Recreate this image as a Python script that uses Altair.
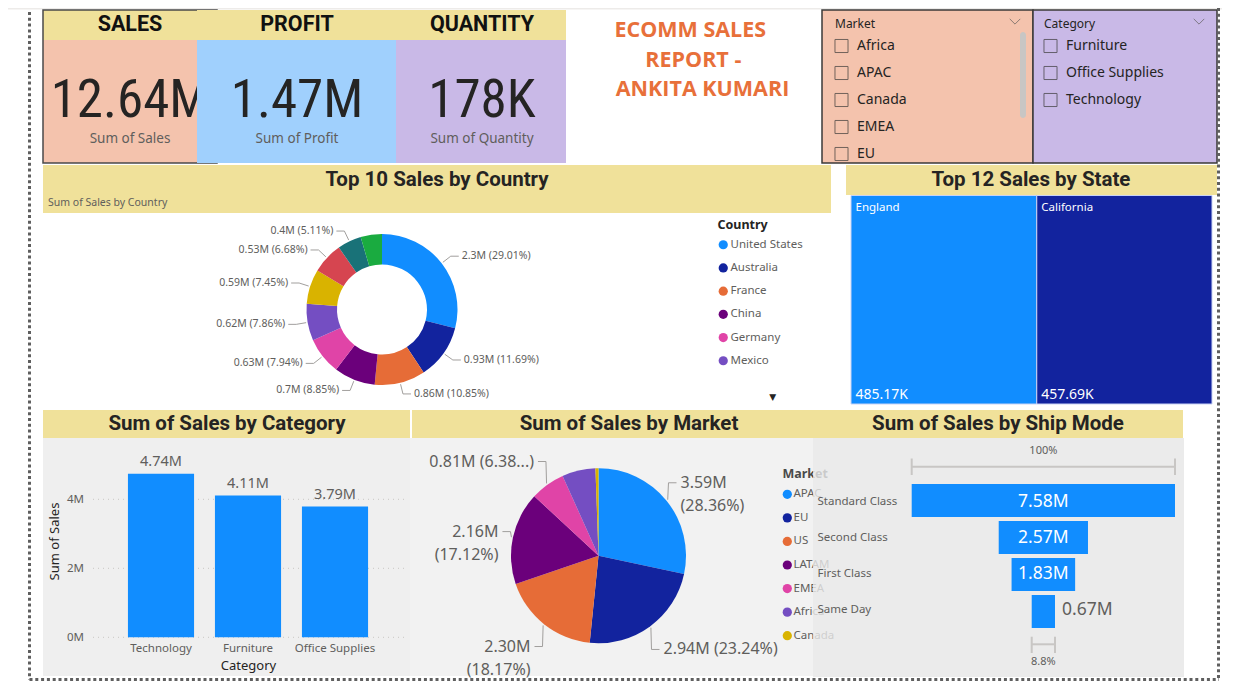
import altair as alt
import pandas as pd

kpi_titles = ["SALES", "PROFIT", "QUANTITY"]
kpi_values = ["12.64M", "1.47M", "178K"]
kpi_names = ["Sum of Sales", "Sum of Profit", "Sum of Quantity"]
report_title = ["ECOMM SALES", "REPORT -", "ANKITA KUMARI"]

slicer_markets = ["Africa", "APAC", "Canada", "EMEA", "EU"]
slicer_categories = ["Furniture", "Office Supplies", "Technology"]

countries = ["United States", "Australia", "France", "China", "Germany",
             "Mexico", "India", "United Kingdom", "Indonesia", "Brazil"]
country_sales_m = [2.3, 0.93, 0.86, 0.7, 0.63, 0.62, 0.59, 0.53, 0.4, 0.36]
country_share = [29.01, 11.69, 10.85, 8.85, 7.94, 7.86, 7.45, 6.68, 5.11, 4.56]

states = ["England", "California"]
state_sales_k = [485.17, 457.69]

categories = ["Technology", "Furniture", "Office Supplies"]
category_sales_m = [4.74, 4.11, 3.79]
sales_ticks = [0, 2_000_000, 4_000_000]

markets = ["APAC", "EU", "US", "LATAM", "EMEA", "Africa", "Canada"]
market_sales_m = [3.59, 2.94, 2.30, 2.16, 0.81, 0.78, 0.07]
market_share = [28.36, 23.24, 18.17, 17.12, 6.38, 6.17, 0.56]
market_labels = ["3.59M\n(28.36%)", "2.94M (23.24%)", "2.30M\n(18.17%)",
                 "2.16M\n(17.12%)", "0.81M (6.38...)", "", ""]

ship_modes = ["Standard Class", "Second Class", "First Class", "Same Day"]
ship_sales_m = [7.58, 2.57, 1.83, 0.67]

# ---------------- styles / layout ----------------
M = 8                      # page margin: layout numbers below are page pixels
W, H = 1214, 673
PBI = ["#118DFF", "#12239E", "#E66C37", "#6B007B", "#E044A7",
       "#744EC2", "#D9B300", "#D64550", "#197278", "#1AAB40"]
YELLOW = "#F0E19A"
INK = "#252423"
GREY = "#605E5C"
LEAD = "#A19F9D"
TF = "Roboto"
UF = "Noto Sans"
NF = "Liberation Sans Narrow, Roboto Condensed, Roboto"

ONE = pd.DataFrame({"k": [0]})


def px(v):
    return v - M


def box(x0, y0, x1, y1, **kw):
    return alt.Chart(ONE).mark_rect(**kw).encode(
        x=alt.value(px(x0)), x2=alt.value(px(x1)),
        y=alt.value(px(y0)), y2=alt.value(px(y1)))


def line(x0, y0, x1, y1, **kw):
    enc = dict(x=alt.value(px(x0)), y=alt.value(px(y0)))
    if x1 != x0:
        enc["x2"] = alt.value(px(x1))
    if y1 != y0:
        enc["y2"] = alt.value(px(y1))
    return alt.Chart(ONE).mark_rule(**kw).encode(**enc)


def text(s, x, y, **kw):
    kw.setdefault("baseline", "middle")
    return alt.Chart(pd.DataFrame({"t": [s]})).mark_text(**kw).encode(
        x=alt.value(px(x)), y=alt.value(px(y)), text="t:N")


def header(x0, x1, y0, y1, title, cx, cy):
    return [box(x0, y0, x1, y1, color=YELLOW),
            text(title, cx, cy, font=TF, fontSize=20.5, fontWeight="bold", color=INK)]


def pie_labels(df, cx, cy, r0, r1x, r1y, hook, gap, keep, **tk):
    cxr, cyr = px(cx), px(cy)
    base = (alt.Chart(df)
            .transform_joinaggregate(total="sum(share)")
            .transform_window(cum="sum(share)", sort=[alt.SortField("idx")])
            .transform_calculate(a="(datum.cum - datum.share / 2) / datum.total * 2 * PI")
            .transform_calculate(side="sin(datum.a) >= 0 ? 1 : -1")
            .transform_calculate(ax=f"{cxr} + {r0} * sin(datum.a)")
            .transform_calculate(ay=f"{cyr} - {r0} * cos(datum.a)")
            .transform_calculate(bx=f"{cxr} + {r1x} * sin(datum.a)")
            .transform_calculate(by=f"{cyr} - {r1y} * cos(datum.a)")
            .transform_calculate(hx=f"datum.bx + datum.side * {hook}")
            .transform_calculate(tx=f"datum.bx + datum.side * {hook + gap}")
            .transform_filter(keep))
    X = lambda f: alt.X(f, scale=None, axis=None)
    Y = lambda f: alt.Y(f, scale=None, axis=None)
    return [
        base.mark_rule(color=LEAD, strokeWidth=1).encode(x=X("ax:Q"), y=Y("ay:Q"), x2="bx:Q", y2="by:Q"),
        base.mark_rule(color=LEAD, strokeWidth=1).encode(x=X("bx:Q"), y=Y("by:Q"), x2="hx:Q"),
        base.transform_filter("datum.side > 0").mark_text(align="left", baseline="middle", **tk)
            .encode(x=X("tx:Q"), y=Y("by:Q"), text="label:N"),
        base.transform_filter("datum.side < 0").mark_text(align="right", baseline="middle", **tk)
            .encode(x=X("tx:Q"), y=Y("by:Q"), text="label:N"),
    ]


layers = []

# toolbar remnant at the very top
layers.append(box(8, 8, 1222, 9.5, color="#EDEBE9"))

# ---------------- KPI cards ----------------
cards = [(43, 217, 130, "#F4C3AD"), (197, 396, 297, "#A0D0FD"), (396, 566, 482, "#C9B9E7")]
for i, (x0, x1, cx, fill) in enumerate(cards):
    layers += [box(x0, 10, x1, 40, color=YELLOW), box(x0, 40, x1, 163, color=fill)]
    if i == 0:
        layers.append(box(43, 10, 217, 163, fillOpacity=0, stroke="#4A4A4A", strokeWidth=1.5))
    layers += [
        text(kpi_titles[i], cx, 25, font=TF, fontSize=21.5, fontWeight="bold", color="#111111"),
        text(kpi_values[i], cx, 117, baseline="alphabetic", font=NF, fontSize=53, color=INK),
        text(kpi_names[i], cx, 139, font=UF, fontSize=13.5, color=GREY),
    ]

for s, (x, y) in zip(report_title, [(690.3, 31), (693.3, 61), (702.5, 90.3)]):
    layers.append(text(s, x, y, font="Open Sans", fontSize=21.5, fontWeight="bold", color="#E8703A"))


# ---------------- slicers ----------------
def slicer(x0, x1, fill, title, items, hx, bx, tx):
    df = pd.DataFrame({"item": items})
    ys = alt.Scale(type="point", domain=items, padding=0,
                   range=[px(46), px(46 + 27 * (len(items) - 1))])
    return [
        box(x0, 10, x1, 163, color=fill, stroke="#3B3A39", strokeWidth=1.5),
        text(title, hx, 23.5, align="left", font=UF, fontSize=12, color=INK),
        alt.Chart(ONE).mark_point(shape="M -1 -0.5 L 0 0.5 L 1 -0.5", filled=False, size=110,
                                  color=GREY, strokeWidth=1)
            .encode(x=alt.value(px(x1 - 18)), y=alt.value(px(21.5))),
        alt.Chart(df).mark_point(shape="square", filled=False, size=170, color="#3B3A39", strokeWidth=1)
            .encode(x=alt.value(px(bx)), y=alt.Y("item:N", scale=ys, axis=None)),
        alt.Chart(df).mark_text(align="left", baseline="middle", font=UF, fontSize=14, color=INK)
            .encode(x=alt.value(px(tx)), y=alt.Y("item:N", scale=ys, axis=None), text="item:N"),
    ]


layers += slicer(822, 1033, "#F4C3AD", "Market", slicer_markets, 835, 841.5, 857)
layers.append(box(1020, 32, 1026, 118, color="#C8C6C4", cornerRadius=3))
layers += slicer(1033, 1217, "#C9B9E7", "Category", slicer_categories, 1044, 1050.5, 1066)

# ---------------- Top 10 Sales by Country (donut) ----------------
layers += header(43, 831, 165, 213, "Top 10 Sales by Country", 437, 179.5)
layers.append(text("Sum of Sales by Country", 48, 203, align="left", font=UF, fontSize=10.5, color=GREY))
cdf = pd.DataFrame({"country": countries, "sales": country_sales_m,
                    "share": country_share, "idx": range(len(countries))})
cdf["label"] = [f"{v:g}M ({s:.2f}%)" for v, s in zip(country_sales_m, country_share)]
layers.append(
    alt.Chart(cdf).mark_arc(innerRadius=45, outerRadius=75.5).encode(
        theta=alt.Theta("share:Q", stack=True),
        order=alt.Order("idx:Q", sort="ascending"),
        color=alt.Color("country:N", scale=alt.Scale(domain=countries, range=PBI),
                        legend=alt.Legend(title="Country", orient="none", legendX=px(717.5), legendY=px(218.5),
                                          values=countries[:6], titleFont=UF, titleFontSize=12.5,
                                          titleFontWeight="bold", titleColor=INK, titlePadding=8,
                                          labelFont=UF, labelFontSize=11.5, labelColor=GREY, labelOffset=1.5,
                                          symbolType="circle", symbolSize=85, symbolStrokeWidth=0,
                                          rowPadding=10.2, padding=0)),
        x=alt.value(px(382)), y=alt.value(px(309.5))))
layers += pie_labels(cdf, 382, 309.5, 77, 87, 87, 8, 3, "datum.share >= 5",
                     font=UF, fontSize=10.5, color=GREY)
layers.append(text("▼", 772.7, 397.3, font="DejaVu Sans", fontSize=9, color=INK))

# ---------------- Top 12 Sales by State (treemap) ----------------
layers += header(846, 1217, 165, 195, "Top 12 Sales by State", 1031, 179.5)
sdf = pd.DataFrame({"state": states, "sales": state_sales_k, "idx": range(len(states))})
sdf["label"] = [f"{v:.2f}K" for v in state_sales_k]
tmx = alt.Scale(domain=[0, sum(state_sales_k)], range=[px(851), px(1212)], nice=False, zero=False)
sbase = alt.Chart(sdf).transform_stack(stack="sales", groupby=[], as_=["x0", "x1"],
                                       sort=[alt.SortField("idx")])
layers += [
    sbase.mark_rect(stroke="#C9D3F5", strokeWidth=1).encode(
        x=alt.X("x0:Q", scale=tmx, axis=None), x2="x1:Q",
        y=alt.value(px(195.5)), y2=alt.value(px(404)),
        color=alt.Color("state:N", scale=alt.Scale(domain=states, range=PBI[:2]), legend=None)),
    sbase.mark_text(align="left", baseline="middle", dx=4.5, font=UF, fontSize=11.5, color="white").encode(
        x=alt.X("x0:Q", scale=tmx, axis=None), y=alt.value(px(208)), text="state:N"),
    sbase.mark_text(align="left", baseline="middle", dx=4.5, font=UF, fontSize=14, color="white").encode(
        x=alt.X("x0:Q", scale=tmx, axis=None), y=alt.value(px(395)), text="label:N"),
]

# ---------------- Sum of Sales by Category (bars) ----------------
layers += header(43, 410, 410, 438, "Sum of Sales by Category", 227, 423.5)
layers.append(box(43, 438, 410, 676, color="#EFEFEF"))
bdf = pd.DataFrame({"category": categories, "sales": [v * 1e6 for v in category_sales_m]})
bdf["label"] = [f"{v:.2f}M" for v in category_sales_m]
bx_scale = alt.Scale(domain=categories, range=[px(117.5), px(378.5)], paddingInner=0.24, paddingOuter=0.12)
by_scale = alt.Scale(domain=[0, 5e6], range=[px(637.3), px(637.3 - 172.5)], nice=False, zero=True)
layers.append(
    alt.Chart(pd.DataFrame({"v": sales_ticks})).mark_rule(color="#C8C6C4", strokeDash=[1, 4], strokeWidth=1)
    .encode(y=alt.Y("v:Q", scale=by_scale, axis=None), x=alt.value(px(93)), x2=alt.value(px(407))))
layers.append(
    alt.Chart(bdf).mark_bar(color=PBI[0]).encode(
        x=alt.X("category:N", sort=categories, scale=bx_scale,
                axis=alt.Axis(orient="bottom", offset=px(637.3) - H, title="Category", domain=False,
                              ticks=False, tickSize=0, labelPadding=5.5, labelAngle=0,
                              labelFont=UF, labelFontSize=11.5, labelColor=GREY,
                              titleFont=UF, titleFontSize=13, titleFontWeight="normal",
                              titleColor=INK, titlePadding=5.5, zindex=1)),
        y=alt.Y("sales:Q", scale=by_scale,
                axis=alt.Axis(orient="left", offset=-px(83.5), values=sales_ticks,
                              labelExpr="datum.value / 1000000 + 'M'", domain=False, ticks=False,
                              tickSize=0, labelPadding=0, grid=False, title="Sum of Sales",
                              labelFont=UF, labelFontSize=11.5, labelColor=GREY,
                              titleFont=UF, titleFontSize=13, titleFontWeight="normal",
                              titleColor=INK, titlePadding=5, titleY=px(541), zindex=1))))
layers.append(
    alt.Chart(bdf).mark_text(baseline="middle", dy=-12, font=UF, fontSize=14.5, color=GREY).encode(
        x=alt.X("category:N", sort=categories, scale=bx_scale, axis=None),
        y=alt.Y("sales:Q", scale=by_scale, axis=None), text="label:N"))

# ---------------- Sum of Sales by Market (pie) ----------------
layers += header(412, 812, 410, 438, "Sum of Sales by Market", 629, 423.5)
layers.append(box(410, 438, 813, 676, color="#F2F2F2"))
mdf = pd.DataFrame({"market": markets, "sales": market_sales_m, "share": market_share,
                    "idx": range(len(markets)), "label": market_labels})
mcolor = alt.Scale(domain=markets, range=PBI[:len(markets)])
layers.append(
    alt.Chart(mdf).mark_arc(outerRadius=87.5).encode(
        theta=alt.Theta("share:Q", stack=True),
        order=alt.Order("idx:Q", sort="ascending"),
        color=alt.Color("market:N", scale=mcolor, legend=None),
        x=alt.value(px(598.5)), y=alt.value(px(555.7))))
layers += pie_labels(mdf, 598.5, 555.7, 89, 90, 116, 8, 4, "datum.label != ''",
                     font=UF, fontSize=16, color=GREY, lineBreak="\n", lineHeight=23)
# market legend (drawn under the ship-mode panel, as in the report)
mly = alt.Scale(type="point", domain=markets, padding=0, range=[px(494.3), px(635.7)])
layers += [
    text("Market", 782.5, 474.3, align="left", font=UF, fontSize=12.5, fontWeight="bold", color="#4A4A4A"),
    alt.Chart(mdf).mark_point(filled=True, shape="circle", size=85, opacity=1).encode(
        x=alt.value(px(787.3)), y=alt.Y("market:N", scale=mly, axis=None),
        color=alt.Color("market:N", scale=mcolor, legend=None)),
    alt.Chart(mdf).mark_text(align="left", baseline="middle", font=UF, fontSize=11.5, color=GREY).encode(
        x=alt.value(px(793.5)), y=alt.Y("market:N", scale=mly, axis=None), text="market:N"),
]

# ---------------- Sum of Sales by Ship Mode (funnel) ----------------
layers += header(812, 1183, 410, 438, "Sum of Sales by Ship Mode", 998, 423.5)
layers.append(box(813, 438, 1184, 677, color="#E6E6E6", opacity=0.82))
fmax = max(ship_sales_m)
fdf = pd.DataFrame({"mode": ship_modes, "sales": ship_sales_m, "idx": range(len(ship_modes))})
fdf["label"] = [f"{v:.2f}M" for v in ship_sales_m]
fx = alt.Scale(domain=[-fmax / 2, fmax / 2], range=[px(911.7), px(1175)], nice=False, zero=False)
fy = alt.Scale(domain=ship_modes, range=[px(484), px(628)], paddingInner=0.108, paddingOuter=0)
fbase = alt.Chart(fdf).transform_calculate(
    lo="-datum.sales / 2", hi="datum.sales / 2", mid="0", ratio=f"datum.sales / {fmax}")
FX = lambda f: alt.X(f, scale=fx, axis=None)
bracket = dict(color="#C8C6C4", strokeWidth=2)
last = len(ship_modes) - 1
for row, yl, yt0, yt1, ytxt in [(0, 466.7, 458.5, 475, 451), (last, 644.3, 636.7, 653, 662.3)]:
    b = fbase.transform_filter(f"datum.idx == {row}")
    layers += [
        b.mark_rule(**bracket).encode(x=FX("lo:Q"), x2="hi:Q", y=alt.value(px(yl))),
        b.transform_fold(["lo", "hi"]).mark_rule(**bracket).encode(
            x=FX("value:Q"), y=alt.value(px(yt0)), y2=alt.value(px(yt1))),
        b.mark_text(baseline="middle", font=UF, fontSize=11, color=GREY).encode(
            x=FX("mid:Q"), y=alt.value(px(ytxt)), text=alt.Text("ratio:Q", format=".1~%")),
    ]
layers += [
    fbase.mark_bar(color=PBI[0]).encode(
        x=FX("lo:Q"), x2="hi:Q", y=alt.Y("mode:N", scale=fy, sort=ship_modes, axis=None)),
    fbase.transform_filter("datum.ratio >= 0.2").mark_text(
        baseline="middle", font=UF, fontSize=17.5, color="white").encode(
        x=FX("mid:Q"), y=alt.Y("mode:N", scale=fy, sort=ship_modes, axis=None), text="label:N"),
    fbase.transform_filter("datum.ratio < 0.2").mark_text(
        align="left", baseline="middle", dx=7, font=UF, fontSize=17.5, color=GREY).encode(
        x=FX("hi:Q"), y=alt.Y("mode:N", scale=fy, sort=ship_modes, axis=None), text="label:N"),
    fbase.mark_text(align="left", baseline="middle", font=UF, fontSize=11.5, color=GREY).encode(
        x=alt.value(px(817.5)), y=alt.Y("mode:N", scale=fy, sort=ship_modes, axis=None), text="mode:N"),
]

# ---------------- dotted canvas border ----------------
dots = dict(color="#5F5F5F", strokeWidth=3, strokeDash=[3, 2.8])
layers += [line(29.5, 12, 29.5, 679.5, **dots),
           line(29.5, 679.5, 1219, 679.5, **dots),
           line(1218.5, 8, 1218.5, 679.5, **dots)]

chart = (alt.layer(*layers)
         .resolve_scale(x="independent", y="independent", color="independent", theta="independent")
         .resolve_axis(x="independent", y="independent")
         .resolve_legend(color="independent")
         .properties(width=W, height=H, padding=0, background="white",
                     autosize=alt.AutoSizeParams(type="none"))
         .configure(font=UF)
         .configure_view(stroke="transparent", strokeWidth=0, fill="white")
         .configure_axis(grid=False, domain=False, ticks=False))

chart.save("out.html", embed_options={"renderer": "svg", "actions": False})
